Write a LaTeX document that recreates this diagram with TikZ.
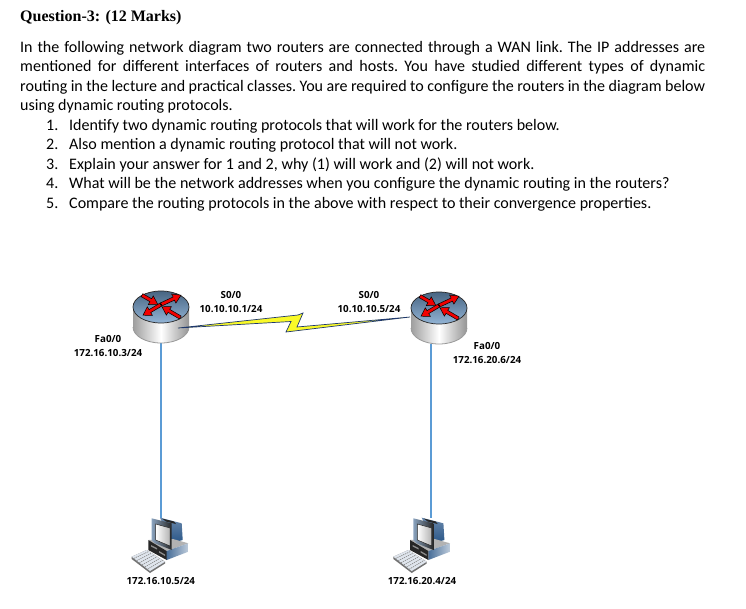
\documentclass[tikz,border=0pt]{standalone}
\usepackage{fontspec}
\usetikzlibrary{calc}
\setmainfont{Carlito}
\newfontfamily\titlefont{Liberation Serif}
\newfontfamily\labelfont{Open Sans}
\definecolor{linkblue}{RGB}{91,155,213}
\definecolor{wandark}{RGB}{31,56,110}
\definecolor{wanyellow}{RGB}{250,250,40}
\definecolor{topblue}{RGB}{110,155,200}
\definecolor{pcblue}{RGB}{40,85,135}
\tikzset{
  x=1pt,y=-1pt,
  bodyline/.style={anchor=base west,inner sep=0pt,font=\fontsize{16.05}{18}\selectfont,text=black},
  netlabel/.style={align=center,inner sep=0pt,font=\labelfont\bfseries\fontsize{9.8}{13.5}\selectfont,text=black},
  pclabel/.style={inner sep=0pt,font=\labelfont\bfseries\fontsize{9.8}{12}\selectfont,text=black},
  lanlink/.style={draw=linkblue,line width=2pt},
  redarrow/.style={draw=black,line width=.5pt,fill=red!95!black,line join=miter},
}
\newcommand{\jline}[3]{\node[bodyline] (#1) at (20,#2) {\makebox[685pt][s]{\frenchspacing #3}};}
\newcommand{\pline}[3]{\node[bodyline] (#1) at (20,#2) {#3};}
\newcommand{\qline}[4]{\node[bodyline] (#1n) at (46,#2) {#3}; \node[bodyline] (#1) at (69,#2) {#4};}
% red arrow from (x1,y1) to (x2,y2)
\newcommand{\rarrow}[4]{%
 \pgfmathsetmacro{\dxx}{#3-#1}\pgfmathsetmacro{\dyy}{#4-#2}%
 \pgfmathsetmacro{\lenn}{sqrt(\dxx*\dxx+\dyy*\dyy)}%
 \pgfmathsetmacro{\ux}{\dxx/\lenn}\pgfmathsetmacro{\uy}{\dyy/\lenn}%
 \pgfmathsetmacro{\bx}{#3-8*\ux}\pgfmathsetmacro{\by}{#4-8*\uy}%
 \path[redarrow] ({#1-1.7*\uy},{#2+1.7*\ux}) -- ({\bx-1.7*\uy},{\by+1.7*\ux}) -- ({\bx-5*\uy},{\by+5*\ux}) -- (#3,#4) -- ({\bx+5*\uy},{\by-5*\ux}) -- ({\bx+1.7*\uy},{\by-1.7*\ux}) -- ({#1+1.7*\uy},{#2-1.7*\ux}) -- cycle;}
\newcommand{\routerdraw}[2]{%
 \begin{scope}[shift={(#1,#2)}]
  \path[left color=black!38,right color=black!42,middle color=white] (-28,0) -- (-28,20) arc[start angle=180,end angle=360,x radius=28,y radius=-16] -- (28,0) -- cycle;
  \path[draw=black!40,line width=.8pt] (-28,20) arc[start angle=180,end angle=360,x radius=28,y radius=-16];
  \path[draw=black!85,line width=.7pt,top color=topblue!65!black,bottom color=topblue!75!white] (0,0) ellipse[x radius=28,y radius=16];
  \begin{scope}[shift={(0,-2.5)}]
   \rarrow{-19}{-9.3}{-3.3}{-.3}
   \rarrow{19.3}{13}{1}{2.3}
   \rarrow{0}{0}{20}{-9.3}
   \rarrow{0}{0}{-18}{10.7}
   \fill[black] (0,0) circle[radius=1];
  \end{scope}
 \end{scope}}
\newcommand{\pcdraw}[2]{%
 \begin{scope}[shift={(#1,#2)}]
  % back of the monitor
  \path[top color=pcblue!70!white,bottom color=pcblue] (8,-.3) -- (29.7,5.3) -- (30.7,22) -- (19.7,25) -- cycle;
  \fill[black!85] (10,.5) -- (22,3.5) -- (24,6) -- (14,3.5) -- cycle;
  % base
  \fill[black!30] (-3.7,22) -- (21,21) -- (36.3,25.3) -- (14.7,33) -- cycle;
  \path[left color=pcblue!85,right color=pcblue!30] (14.7,33) -- (36.3,25.3) -- (36.3,33.7) -- (14.7,42) -- cycle;
  \fill[black!85] (-3.7,22) -- (14.7,33) -- (14.7,42) -- (-3.7,32) -- cycle;
  \fill[black!45] (-1,27) -- (5,30) -- (5,31.5) -- (-1,28.5) -- cycle;
  \fill[black!45] (7,33) -- (13,36.5) -- (13,38) -- (7,34.5) -- cycle;
  % monitor
  \path[left color=pcblue!55!white,right color=black!85] (-.3,.3) -- (19.7,5.3) -- (19.7,32) -- (3,25.3) -- (-.3,22) -- cycle;
  \path[left color=white,right color=black!30,draw=black!85,line width=.5pt] (3.7,6) -- (18,10) -- (18,28) -- (3.7,22) -- cycle;
  % keyboard
  \fill[black!55] (-20.3,38.7) -- (-5.3,32) -- (13,43.7) -- (13,45.5) -- (-2,55) -- (-20.3,41) -- cycle;
  \fill[pcblue!15] (-20.3,38.7) -- (-5.3,32) -- (13,43.7) -- (-2,53) -- cycle;
  \foreach \k in {.12,.27,.42,.57,.72,.87}{
    \draw[black!45,line width=.7pt,dash pattern=on 1.2pt off .9pt]
      ($(-20.3,38.7)!\k!(-2,53)$) -- ($(-5.3,32)!\k!(13,43.7)$);
  }
 \end{scope}}
\begin{document}
\begin{tikzpicture}
\useasboundingbox (0,0) rectangle (746,608);
\fill[white] (0,0) rectangle (746,608);
\node[anchor=base west,inner sep=0pt,font=\titlefont\bfseries\fontsize{16}{18}\selectfont] (title) at (20,21) {Question-3: (12 Marks)};
\jline{l1}{52}{In the following network diagram two routers are connected through a WAN link. The IP addresses are}
\jline{l2}{71.5}{mentioned for different interfaces of routers and hosts. You have studied different types of dynamic}
\jline{l3}{91}{routing in the lecture and practical classes. You are required to configure the routers in the diagram below}
\pline{l4}{110.5}{using dynamic routing protocols.}
\qline{q1}{130}{1.}{Identify two dynamic routing protocols that will work for the routers below.}
\qline{q2}{149.5}{2.}{Also mention a dynamic routing protocol that will not work.}
\qline{q3}{169}{3.}{Explain your answer for 1 and 2, why (1) will work and (2) will not work.}
\qline{q4}{188.5}{4.}{What will be the network addresses when you configure the dynamic routing in the routers?}
\qline{q5}{208}{5.}{Compare the routing protocols in the above with respect to their convergence properties.}

\coordinate (lp) at (161,518);
\coordinate (rp) at (431,518);
\coordinate (lr) at (161,343);
\coordinate (rr) at (431,344);
\draw[lanlink] (lr) -- (lp);
\draw[lanlink] (rr) -- (rp);

\routerdraw{161}{307}
\routerdraw{439}{308}

\coordinate (wl) at (178,328);
\coordinate (wr) at (410,317);
\path[fill=wanyellow,draw=wandark,line width=.7pt,line join=miter] (wl) -- (298,315) -- (303,313) -- (297,327) -- (wr) -- (286,332) -- (291,321.5) -- cycle;

\node[netlabel] (a1) at (231,302) {S0/0\\10.10.10.1/24};
\node[netlabel] (a2) at (369,302) {S0/0\\10.10.10.5/24};
\node[netlabel] (a3) at (108,346) {Fa0/0\\172.16.10.3/24};
\node[netlabel] (a4) at (487,353) {Fa0/0\\172.16.20.6/24};
\pcdraw{152}{518}
\pcdraw{413.7}{518}
\node[pclabel] (h1) at (160.8,581) {172.16.10.5/24};
\node[pclabel] (h2) at (422,581) {172.16.20.4/24};
\end{tikzpicture}
\end{document}
